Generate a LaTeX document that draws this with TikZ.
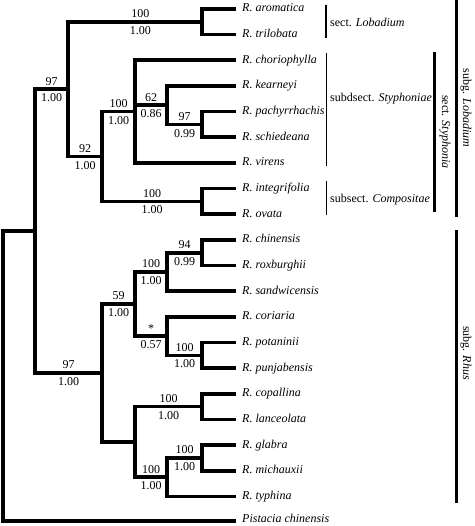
\documentclass[tikz,border=0pt]{standalone}
\usepackage{fontspec}
\setmainfont{Liberation Serif}
\usetikzlibrary{positioning}

\tikzset{
  br/.style={line width=3.6pt},
  leaf/.style={anchor=west, inner xsep=6pt, inner ysep=0pt, text height=6pt, text depth=0pt,
    font=\fontsize{12}{13}\selectfont\itshape},
  bsup/.style={inner sep=1pt, font=\fontsize{12}{13}\selectfont},
  up/.style={bsup, above=1.2pt},
  dn/.style={bsup, below=1.8pt},
  grp/.style={inner sep=0pt, font=\fontsize{12}{13}\selectfont},
  gbar/.style={line width=3pt},
}

\begin{document}
\begin{tikzpicture}[x=1pt, y=-1pt]
  \useasboundingbox (0,0) rectangle (474,526);

  % 葉
  \node[leaf] (aro) at (236,9.0)   {R. aromatica};
  \node[leaf] (tri) at (236,34.7)  {R. trilobata};
  \node[leaf] (cho) at (236,60.3)  {R. choriophylla};
  \node[leaf] (kea) at (236,86.0)  {R. kearneyi};
  \node[leaf] (pac) at (236,111.6) {R. pachyrrhachis};
  \node[leaf] (sch) at (236,137.3) {R. schiedeana};
  \node[leaf] (vir) at (236,162.9) {R. virens};
  \node[leaf] (int) at (236,188.6) {R. integrifolia};
  \node[leaf] (ova) at (236,214.2) {R. ovata};
  \node[leaf] (chi) at (236,239.9) {R. chinensis};
  \node[leaf] (rox) at (236,265.5) {R. roxburghii};
  \node[leaf] (san) at (236,291.2) {R. sandwicensis};
  \node[leaf] (cor) at (236,316.8) {R. coriaria};
  \node[leaf] (pot) at (236,342.5) {R. potaninii};
  \node[leaf] (pun) at (236,368.1) {R. punjabensis};
  \node[leaf] (cop) at (236,393.8) {R. copallina};
  \node[leaf] (lan) at (236,419.4) {R. lanceolata};
  \node[leaf] (gla) at (236,445.1) {R. glabra};
  \node[leaf] (mic) at (236,470.7) {R. michauxii};
  \node[leaf] (typ) at (236,496.4) {R. typhina};
  \node[leaf, text height=3pt] (pis) at (236,521.0) {Pistacia chinensis};

  % 内部ノード
  \coordinate (nAT)   at (202,21.8);
  \coordinate (n97p)  at (202,124.5);
  \coordinate (n62)   at (167,105.2);
  \coordinate (nSty)  at (135,111.6);
  \coordinate (nCom)  at (202,201.4);
  \coordinate (nSph)  at (102,156.5);
  \coordinate (nLob)  at (68,89.2);
  \coordinate (n94)   at (202,252.7);
  \coordinate (nChi)  at (167,272.0);
  \coordinate (nPP)   at (202,355.3);
  \coordinate (nStar) at (167,336.0);
  \coordinate (n59)   at (135,304.0);
  \coordinate (nCL)   at (202,406.6);
  \coordinate (nGM)   at (202,457.9);
  \coordinate (nGla)  at (167,477.2);
  \coordinate (nCG)   at (135,441.9);
  \coordinate (nRhus) at (102,373.0);
  \coordinate (nIn)   at (35,231.1);
  \coordinate (nRoot) at (3,376.0);

  % 枝
  \draw[br] (aro.west) -| (nAT) |- (tri.west);
  \draw[br] (pac.west) -| (n97p) |- (sch.west);
  \draw[br] (kea.west) -| (n62) |- node[up,pos=.75] (b97p) {97} node[dn,pos=.75] (p97p) {0.99} (n97p);
  \draw[br] (cho.west) -| (nSty) |- (vir.west);
  \draw[br] (nSty |- n62) -- node[up] (b62) {62} node[dn] (p62) {0.86} (n62);
  \draw[br] (int.west) -| (nCom) |- (ova.west);
  \draw[br] (nSty) -| node[up,pos=.25] (bSty) {100} node[dn,pos=.25] (pSty) {1.00} (nSph)
    |- node[up,pos=.75] (bCom) {100} node[dn,pos=.75] (pCom) {1.00} (nCom);
  \draw[br] (nAT) -| node[up,pos=.23] (bAT) {100} node[dn,pos=.23] (pAT) {1.00} (nLob)
    |- node[up,pos=.75] (bSph) {92} node[dn,pos=.75] (pSph) {1.00} (nSph);
  \draw[br] (chi.west) -| (n94) |- (rox.west);
  \draw[br] (n94) -| node[up,pos=.25] (b94) {94} node[dn,pos=.25] (p94) {0.99} (nChi) |- (san.west);
  \draw[br] (pot.west) -| (nPP) |- (pun.west);
  \draw[br] (cor.west) -| (nStar) |- node[up,pos=.75] (bPP) {100} node[dn,pos=.75] (pPP) {1.00} (nPP);
  \draw[br] (nChi) -| node[up,pos=.25] (bChi) {100} node[dn,pos=.25] (pChi) {1.00} (n59)
    |- node[up,pos=.75] (bStar) {*} node[dn,pos=.75] (pStar) {0.57} (nStar);
  \draw[br] (cop.west) -| (nCL) |- (lan.west);
  \draw[br] (gla.west) -| (nGM) |- (mic.west);
  \draw[br] (nGM) -| node[up,pos=.25] (bGM) {100} node[dn,pos=.25] (pGM) {1.00} (nGla) |- (typ.west);
  \draw[br] (nCL) -| node[up,pos=.25] (bCL) {100} node[dn,pos=.25] (pCL) {1.00} (nCG)
    |- node[up,pos=.75] (bGla) {100} node[dn,pos=.75] (pGla) {1.00} (nGla);
  \draw[br] (n59) -| node[up,pos=.25] (b59) {59} node[dn,pos=.25] (p59) {1.00} (nRhus) |- (nCG);
  \draw[br] (nLob) -| node[up,pos=.25] (bLob) {97} node[dn,pos=.25] (pLob) {1.00} (nIn)
    |- node[up,pos=.75] (bRhus) {97} node[dn,pos=.75] (pRhus) {1.00} (nRhus);
  \draw[br] (nIn) -| (nRoot) |- (pis.west);

  % 分類群
  \coordinate (lobT) at (326,5);   \coordinate (lobB) at (326,38);
  \coordinate (styT) at (326,53);  \coordinate (styB) at (326,166);
  \coordinate (comT) at (326,181); \coordinate (comB) at (326,215);
  \coordinate (sphT) at (434,52);  \coordinate (sphB) at (434,212);
  \coordinate (sgLT) at (456,0);   \coordinate (sgLB) at (456,217);
  \coordinate (sgRT) at (456,230); \coordinate (sgRB) at (456,503);
  \draw[line width=1.8pt] (lobT) -- (lobB);
  \draw[line width=0.8pt] (styT) -- (styB);
  \draw[line width=1pt] (comT) -- (comB);
  \draw[gbar] (sphT) -- (sphB);
  \draw[gbar] (sgLT) -- (sgLB);
  \draw[gbar] (sgRT) -- (sgRB);
  \node[grp, anchor=west] (tLob) at (330,22)  {sect. \textit{Lobadium}};
  \node[grp, anchor=west] (tSty) at (330,99)  {subdsect. \textit{Styphoniae}};
  \node[grp, anchor=west] (tCom) at (330,200) {subsect. \textit{Compositae}};
  \node[grp, rotate=-90] (tSph) at (445,132) {sect. \textit{Styphonia}};
  \node[grp, rotate=-90] (tSgL) at (466,108) {subg. \textit{Lobadium}};
  \node[grp, rotate=-90] (tSgR) at (466,353) {subg. \textit{Rhus}};
\end{tikzpicture}
\end{document}
